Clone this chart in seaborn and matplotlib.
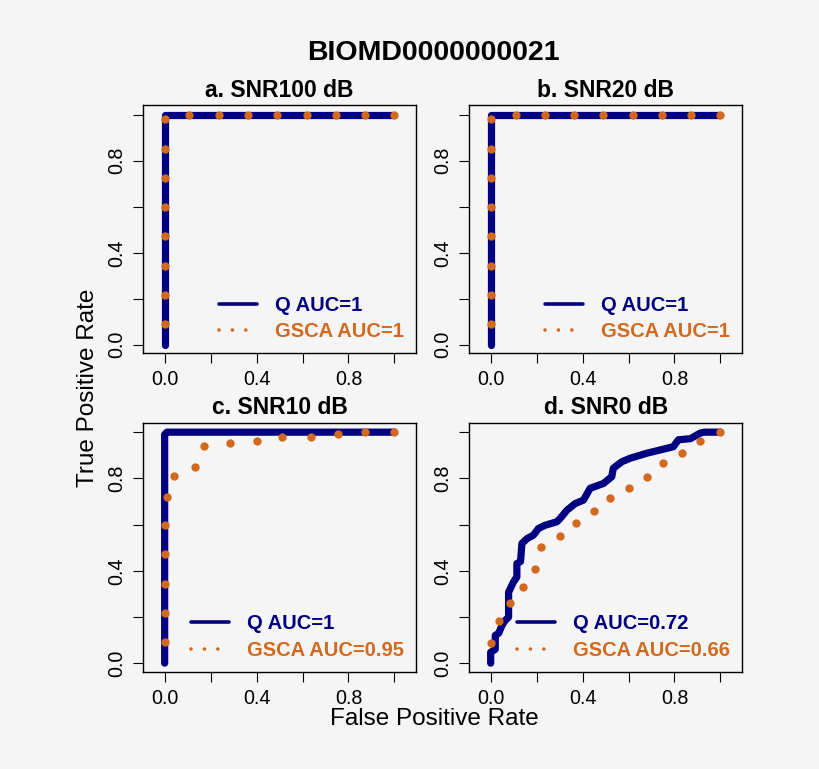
import numpy as np
import pandas as pd
import matplotlib
matplotlib.use("Agg")
import matplotlib.pyplot as plt
from matplotlib.lines import Line2D
import seaborn as sns

# ---------------- data ----------------
main_title = "BIOMD0000000021"
panel_titles = ["a. SNR100 dB", "b. SNR20 dB", "c. SNR10 dB", "d. SNR0 dB"]
q_auc = ["1", "1", "1", "0.72"]
gsca_auc = ["1", "1", "0.95", "0.66"]

# Q method ROC curves (FPR, TPR)
q_fpr_a = [0.0, 0.0, 1.0]
q_tpr_a = [0.0, 1.0, 1.0]
q_fpr_b = [0.0, 0.0, 1.0]
q_tpr_b = [0.0, 1.0, 1.0]
q_fpr_c = [0.0, 0.0, 0.01, 1.0]
q_tpr_c = [0.0, 0.99, 1.0, 1.0]
q_fpr_d = [0.0, 0.0, 0.02, 0.02, 0.035, 0.049, 0.063, 0.078, 0.078, 0.099, 0.114,
           0.114, 0.13, 0.136, 0.158, 0.186, 0.208, 0.237, 0.288, 0.302, 0.332,
           0.368, 0.404, 0.433, 0.491, 0.527, 0.534, 0.571, 0.607, 0.68, 0.738,
           0.795, 0.817, 0.87, 0.912, 0.93, 1.0]
q_tpr_d = [0.0, 0.047, 0.06, 0.12, 0.13, 0.163, 0.185, 0.199, 0.307, 0.351, 0.373,
           0.431, 0.44, 0.518, 0.539, 0.554, 0.583, 0.597, 0.612, 0.626, 0.662,
           0.691, 0.706, 0.757, 0.778, 0.807, 0.844, 0.872, 0.887, 0.909, 0.923,
           0.937, 0.967, 0.972, 0.996, 1.0, 1.0]

# GSCA ROC curves (dotted line, dots)
g_fpr_a = [0.0, 0.0, 0.0, 0.0, 0.0, 0.0, 0.0, 0.0, 0.107, 0.235, 0.363, 0.491,
           0.618, 0.746, 0.874, 1.0]
g_tpr_a = [0.091, 0.217, 0.344, 0.472, 0.598, 0.725, 0.852, 0.981, 1.0, 1.0, 1.0,
           1.0, 1.0, 1.0, 1.0, 1.0]
g_fpr_b = [0.0, 0.0, 0.0, 0.0, 0.0, 0.0, 0.0, 0.0, 0.109, 0.235, 0.363, 0.491,
           0.618, 0.745, 0.873, 1.0]
g_tpr_b = [0.091, 0.217, 0.344, 0.472, 0.598, 0.725, 0.852, 0.981, 1.0, 1.0, 1.0,
           1.0, 1.0, 1.0, 1.0, 1.0]
g_fpr_c = [0.0, 0.0, 0.0, 0.0, 0.0, 0.009, 0.041, 0.132, 0.17, 0.284, 0.402, 0.509,
           0.637, 0.756, 0.872, 1.0]
g_tpr_c = [0.091, 0.219, 0.344, 0.472, 0.598, 0.721, 0.812, 0.849, 0.941, 0.951,
           0.961, 0.98, 0.98, 0.99, 1.0, 1.0]
g_fpr_d = [0.0, 0.036, 0.086, 0.141, 0.191, 0.22, 0.303, 0.371, 0.448, 0.52, 0.601,
           0.68, 0.749, 0.835, 0.91, 1.0]
g_tpr_d = [0.088, 0.181, 0.26, 0.331, 0.408, 0.505, 0.549, 0.608, 0.658, 0.715,
           0.759, 0.808, 0.866, 0.908, 0.962, 1.0]

tick_vals = [0.0, 0.2, 0.4, 0.6, 0.8, 1.0]
tick_labels = ["0.0", "", "0.4", "", "0.8", ""]

q_curves = [(q_fpr_a, q_tpr_a), (q_fpr_b, q_tpr_b), (q_fpr_c, q_tpr_c), (q_fpr_d, q_tpr_d)]
g_curves = [(g_fpr_a, g_tpr_a), (g_fpr_b, g_tpr_b), (g_fpr_c, g_tpr_c), (g_fpr_d, g_tpr_d)]

# ---------------- style ----------------
NAVY = "#000080"
CHOC = "#D2691E"
BG = "#F5F5F5"

sns.set_style("ticks")
plt.rcParams["font.family"] = ["Liberation Sans", "DejaVu Sans"]
plt.rcParams["axes.facecolor"] = BG
plt.rcParams["figure.facecolor"] = BG
plt.rcParams["text.color"] = "black"
plt.rcParams["axes.labelcolor"] = "black"
plt.rcParams["xtick.color"] = "black"
plt.rcParams["ytick.color"] = "black"
plt.rcParams["axes.edgecolor"] = "black"

W, H = 820, 769
fig = plt.figure(figsize=(W / 100, H / 100), dpi=100)

# axes boxes in pixel coords (left, top, right, bottom)
boxes = [(143.3, 105.3, 416.0, 353.3), (469.3, 105.3, 742.0, 353.3),
         (143.3, 422.7, 416.0, 671.7), (469.3, 422.7, 742.0, 671.7)]

for i in range(4):
    l, t, r, b = boxes[i]
    ax = fig.add_axes([l / W, 1 - b / H, (r - l) / W, (b - t) / H])
    ax.set_facecolor(BG)
    qx, qy = q_curves[i]
    gx, gy = g_curves[i]
    sns.lineplot(x=qx, y=qy, ax=ax, sort=False, estimator=None, color=NAVY,
                 lw=5.2, solid_capstyle="round", solid_joinstyle="round")
    sns.scatterplot(x=gx, y=gy, ax=ax, color=CHOC, s=36, linewidth=0, zorder=3)
    ax.set_xlim(-0.093, 1.094)
    ax.set_ylim(-0.037, 1.041)
    ax.set_xticks(tick_vals)
    ax.set_xticklabels(tick_labels, fontsize=14.2, color="black")
    ax.set_yticks(tick_vals)
    ax.set_yticklabels(tick_labels, fontsize=14.2, rotation=90, va="center",
                       color="black")
    ax.tick_params(axis="both", length=7.2, width=0.8, color="black", direction="out")
    ax.tick_params(axis="x", pad=5.0)
    ax.tick_params(axis="y", pad=5.0)
    for sp in ax.spines.values():
        sp.set_visible(True)
        sp.set_linewidth(1.0)
        sp.set_color("black")
    ax.set_title(panel_titles[i], fontsize=16.5, fontweight="bold", pad=6.2,
                 color="black")
    handles = [Line2D([], [], color=NAVY, lw=2.6),
               Line2D([], [], color=CHOC, lw=2.6, linestyle=(0, (0.01, 3.7)),
                      dash_capstyle="round")]
    labels = ["Q AUC=" + q_auc[i], "GSCA AUC=" + gsca_auc[i]]
    ax.legend(handles, labels, loc="lower right", frameon=False,
              prop={"size": 14.5, "weight": "bold"}, handlelength=1.9,
              handletextpad=0.9, labelspacing=0.38, borderpad=0.2,
              borderaxespad=0.4, labelcolor=[NAVY, CHOC])

fig.text(433 / W, 1 - 53 / H, main_title, ha="center", va="center",
         fontsize=20.5, fontweight="bold", color="black")
fig.text(434 / W, 1 - 719 / H, "False Positive Rate", ha="center", va="center",
         fontsize=17.5, color="black")
fig.text(88 / W, 1 - 388 / H, "True Positive Rate", ha="center", va="center",
         fontsize=17.5, rotation=90, color="black")

fig.savefig("out.png", dpi=100, facecolor=BG)
